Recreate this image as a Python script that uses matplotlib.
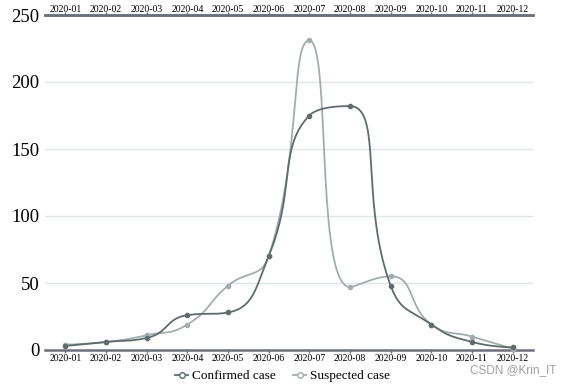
import numpy as np
import matplotlib
matplotlib.use("Agg")
import matplotlib.pyplot as plt
from matplotlib.lines import Line2D

months = ["2020-01", "2020-02", "2020-03", "2020-04", "2020-05", "2020-06",
          "2020-07", "2020-08", "2020-09", "2020-10", "2020-11", "2020-12"]
confirmed = [3, 6, 9, 26, 28, 70, 175, 182, 48, 19, 6, 2]
suspected = [4, 6, 11, 19, 48, 70, 231, 47, 55, 19, 10, 1]
y_ticks = [0, 50, 100, 150, 200, 250]

c_conf = "#5f6b6d"
c_susp = "#a3adad"
axis_col = "#6e7079"
serif = ["Liberation Serif", "DejaVu Serif"]

fig = plt.figure(figsize=(5.71, 3.84), dpi=100)
ax = fig.add_axes([45 / 571, 34 / 384, 488 / 571, 335 / 384])
x = np.arange(len(months))
ax.set_xlim(-0.5, len(months) - 0.5)
ax.set_ylim(0, 250)


def clamp(v, a, b):
    return min(max(v, min(a, b)), max(a, b))


def smooth_curve(ax, xs, ys, smooth=0.5, n=40):
    """ECharts-style smooth line (control points clamped to neighbours)."""
    pts = ax.transData.transform(np.column_stack([xs, ys]))
    N = len(pts)
    t = np.linspace(0, 1, n)[:, None]
    segs = []
    cp0 = pts[0].copy()
    for k in range(1, N):
        px, py = pts[k - 1]
        x0, y0 = pts[k]
        if k == N - 1:
            cp1 = pts[k].copy()
            ncp = pts[k].copy()
        else:
            nx, ny = pts[k + 1]
            vx, vy = nx - px, ny - py
            dx0, dy0 = x0 - px, y0 - py
            dx1, dy1 = nx - x0, ny - y0
            lp = np.hypot(dx0, dy0)
            ln = np.hypot(dx1, dy1)
            r = ln / (ln + lp)
            ncx = clamp(x0 + vx * smooth * r, x0, nx)
            ncy = clamp(y0 + vy * smooth * r, y0, ny)
            vx, vy = ncx - x0, ncy - y0
            c1x = clamp(x0 - vx * lp / ln, px, x0)
            c1y = clamp(y0 - vy * lp / ln, py, y0)
            vx, vy = x0 - c1x, y0 - c1y
            ncx = x0 + vx * ln / lp
            ncy = y0 + vy * ln / lp
            cp1 = np.array([c1x, c1y])
            ncp = np.array([ncx, ncy])
        p0 = pts[k - 1]
        p3 = pts[k]
        seg = ((1 - t) ** 3) * p0 + 3 * ((1 - t) ** 2) * t * cp0 + 3 * (1 - t) * t ** 2 * cp1 + t ** 3 * p3
        segs.append(seg if k == 1 else seg[1:])
        cp0 = ncp
    out = np.vstack(segs)
    return ax.transData.inverted().transform(out)


for yv in y_ticks[1:-1]:
    ax.axhline(yv, color="#e0e6e6", lw=1, zorder=0)

for vals, col in [(suspected, c_susp), (confirmed, c_conf)]:
    curve = smooth_curve(ax, x, np.array(vals, float))
    ax.plot(curve[:, 0], curve[:, 1], color=col, lw=1.3, zorder=3, clip_on=False)
    ax.plot(x, vals, "o", color=col, ms=3, zorder=4, clip_on=False)

for s in ["left", "right"]:
    ax.spines[s].set_visible(False)
for s in ["top", "bottom"]:
    ax.spines[s].set_color(axis_col)
    ax.spines[s].set_linewidth(1.8)

ax.set_xticks(x)
ax.set_xticklabels(months, fontsize=7, family=serif)
ax.tick_params(axis="x", top=False, labeltop=False, bottom=True, labelbottom=True,
               length=2.5, width=1, color=axis_col, pad=0.6)

top = ax.secondary_xaxis("top")
top.set_xticks(x)
top.set_xticklabels(months, fontsize=7, family=serif)
top.tick_params(axis="x", length=2, width=1, color=axis_col, pad=-1.2)
top.spines["top"].set_color(axis_col)
top.spines["top"].set_linewidth(1.8)

ax.set_yticks(y_ticks)
ax.set_yticklabels([str(v) for v in y_ticks], fontsize=13.5, family=serif)
ax.tick_params(axis="y", length=0, pad=4)

handles = [Line2D([], [], color=c_conf, marker="o", mfc="white", mec=c_conf, ms=4, lw=1.3),
           Line2D([], [], color=c_susp, marker="o", mfc="white", mec=c_susp, ms=4, lw=1.3)]
fig.legend(handles, ["Confirmed case", "Suspected case"], loc="center",
           bbox_to_anchor=(0.495, 8 / 384), ncol=2, frameon=False,
           prop={"family": serif, "size": 9.5}, handlelength=1.0, handletextpad=0.3,
           columnspacing=1.3, borderpad=0)

fig.text(556 / 571, 14 / 384, "CSDN @Krin_IT", ha="right", va="center", fontsize=8.5,
         color="#a0a0a0", family=["Liberation Sans", "DejaVu Sans"])

fig.savefig("out.png", dpi=100)
